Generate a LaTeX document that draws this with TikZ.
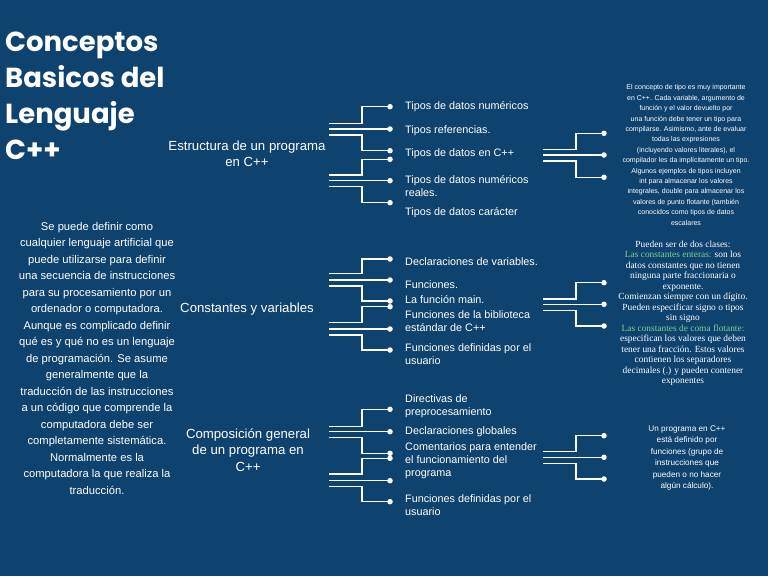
\documentclass[tikz,border=0pt]{standalone}
\usepackage{fontspec}
\setmainfont{Liberation Sans}
\newfontfamily\titlefont{Poppins}
\newfontfamily\serifff{Liberation Serif}
\definecolor{bg}{HTML}{0E436F}
\definecolor{grn}{HTML}{7CD48A}
\begin{document}
\begin{tikzpicture}[x=1pt,y=-1pt,
  conn/.style={draw=white,line width=1.1pt},
  dotc/.style={circle,fill=white,inner sep=0pt,minimum size=5.5pt},
  child/.style={anchor=west,align=left,text=white,font=\fontsize{10.8}{13}\selectfont,inner sep=0pt},
  parent/.style={align=center,text=white,font=\fontsize{13.2}{16.5}\selectfont,inner sep=0pt}]
\fill[bg] (0,0) rectangle (768,576);
\useasboundingbox (0,0) rectangle (768,576);
% title
\node[anchor=north west,align=left,text=white,inner sep=0pt,font=\titlefont\bfseries\fontsize{27.5}{36}\selectfont] (title) at (5,32) {Conceptos\\Basicos del\\Lenguaje\\C++};
% left paragraph
\node[align=center,text=white,inner sep=0pt,font=\fontsize{11.2}{16.5}\selectfont] (intro) at (97,358) {Se puede definir como\\cualquier lenguaje artificial que\\puede utilizarse para definir\\una secuencia de instrucciones\\para su procesamiento por un\\ordenador o computadora.\\Aunque es complicado definir\\qué es y qué no es un lenguaje\\de programación. Se asume\\generalmente que la\\traducción de las instrucciones\\a un código que comprende la\\computadora debe ser\\completamente sistemática.\\Normalmente es la\\computadora la que realiza la\\traducción.};
% parents
\node[parent] (p1) at (247,154) {Estructura de un programa\\en C++};
\node[parent] (p2) at (247,309) {Constantes y variables};
\node[parent] (p3) at (248,450) {Composición general\\de un programa en\\C++};
% children
\node[child] (c11) at (405,107) {Tipos de datos numéricos};
\node[child] (c12) at (405,131) {Tipos referencias.};
\node[child] (c13) at (405,154) {Tipos de datos en C++};
\node[child] (c14) at (405,186.5) {Tipos de datos numéricos\\reales.};
\node[child] (c15) at (405,213) {Tipos de datos carácter};
\node[child] (c21) at (405,262) {Declaraciones de variables.};
\node[child] (c22) at (405,285) {Funciones.};
\node[child] (c23) at (405,300) {La función main.};
\node[child] (c24) at (405,321.5) {Funciones de la biblioteca\\estándar de C++};
\node[child] (c25) at (405,354) {Funciones definidas por el\\usuario};
\node[child] (c31) at (405,406.5) {Directivas de\\preprocesamiento};
\node[child] (c32) at (405,432) {Declaraciones globales};
\node[child] (c33) at (405,460.5) {Comentarios para entender\\el funcionamiento del\\programa};
\node[child] (c34) at (405,505.5) {Funciones definidas por el\\usuario};
% info texts
\node[align=center,text=white,inner sep=0pt,font=\fontsize{7}{10.4}\selectfont] (i1) at (686,155) {El concepto de tipo es muy importante\\en C++. Cada variable, argumento de\\función y el valor devuelto por\\una función debe tener un tipo para\\compilarse. Asimismo, ante de evaluar\\todas las expresiones\\(incluyendo valores literales), el\\compilador les da implícitamente un tipo.\\Algunos ejemplos de tipos incluyen\\int para almacenar los valores\\integrales, double para almacenar los\\valores de punto flotante (también\\conocidos como tipos de datos\\escalares};
\node[align=center,text=white,inner sep=0pt,font=\serifff\fontsize{9.4}{10.5}\selectfont] (i2) at (683,313) {Pueden ser de dos clases:\\\textcolor{grn}{Las constantes enteras:} son los\\datos constantes que no tienen\\ninguna parte fraccionaria o\\exponente.\\Comienzan siempre con un dígito.\\Pueden especificar signo o tipos\\sin signo\\\textcolor{grn}{Las constantes de coma flotante:}\\especifican los valores que deben\\tener una fracción. Estos valores\\contienen los separadores\\decimales (.) y pueden contener\\exponentes};
\node[align=center,text=white,inner sep=0pt,font=\fontsize{8.2}{11.4}\selectfont] (i3) at (687,458) {Un programa en C++\\está definido por\\funciones (grupo de\\instrucciones que\\pueden o no hacer\\algún cálculo).};
% connector macro
\newcommand{\fanconn}[8]{%
  \coordinate (#8a) at (#3,#6); \coordinate (#8b) at (#3,#5); \coordinate (#8c) at (#3,#7);
  \path[conn] (#1,#4) -- (#2,#4) |- (#8a);
  \path[conn] (#1,#5) -- (#8b);
  \path[conn] (#1,#5+6) -- (#2,#5+6) |- (#8c);
  \node[dotc] at (#8a) {}; \node[dotc] at (#8b) {}; \node[dotc] at (#8c) {};}
\fanconn{329}{362}{390}{123.3}{129}{106.7}{150.7}{g1u}
\fanconn{329}{362}{390}{175}{180.7}{159.3}{202.7}{g1l}
\fanconn{543}{576}{604}{149.3}{155}{133.3}{177.3}{g1r}
\fanconn{329}{362}{390}{273.3}{280}{259}{301}{g2u}
\fanconn{329}{362}{390}{322.3}{329}{306.7}{350}{g2l}
\fanconn{543}{576}{604}{299}{304.3}{282.7}{326}{g2r}
\fanconn{329}{362}{390}{426.7}{431.7}{409.3}{453.3}{g3u}
\fanconn{329}{362}{390}{474}{480.7}{458.3}{501.7}{g3l}
\fanconn{543}{576}{604}{451.7}{457.3}{435.7}{479}{g3r}
\end{tikzpicture}
\end{document}
